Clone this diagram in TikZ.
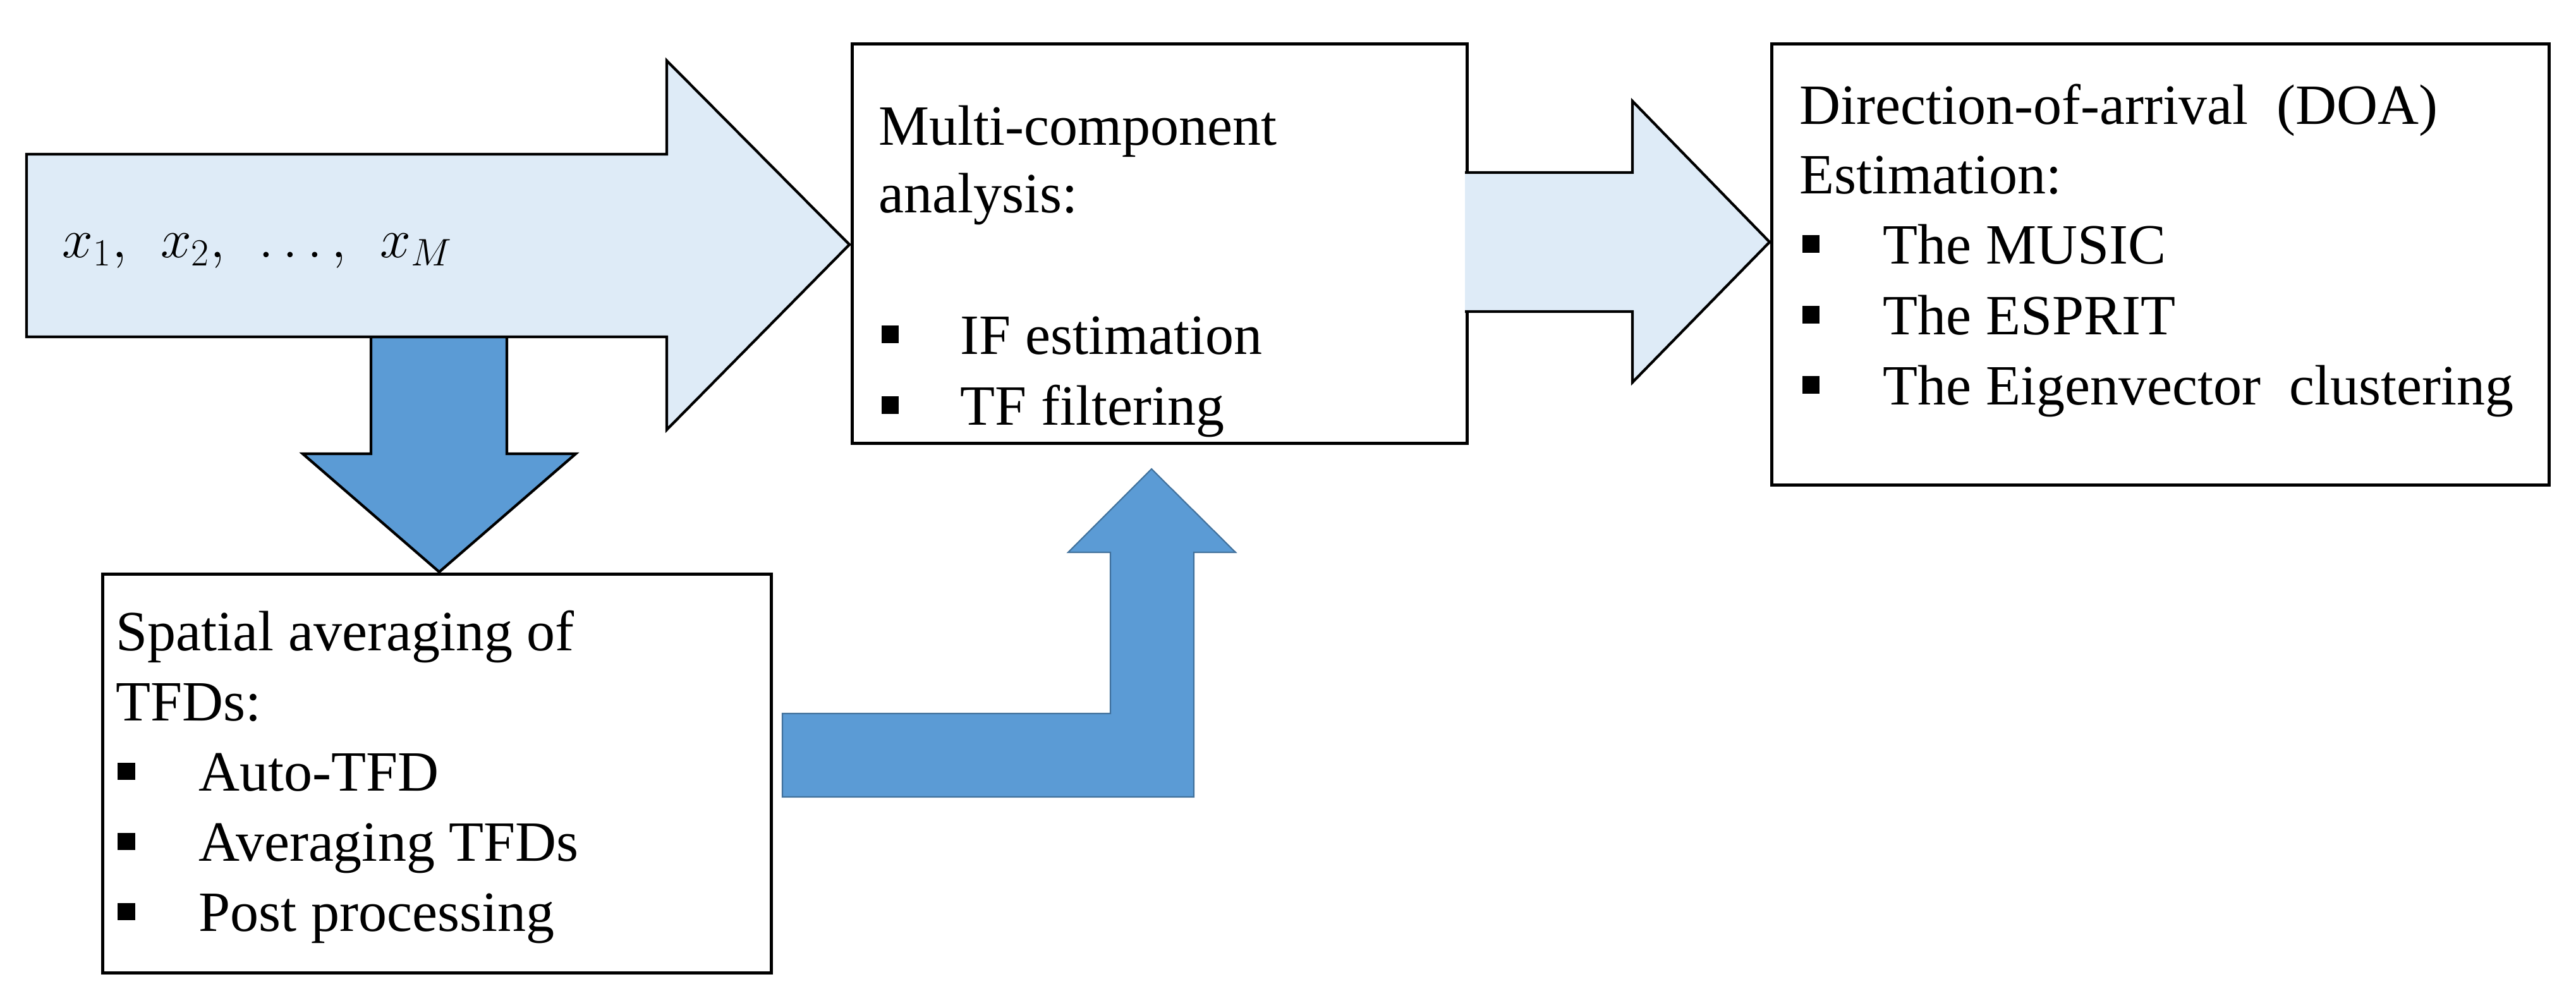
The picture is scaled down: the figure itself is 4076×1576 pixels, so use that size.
\documentclass[tikz,border=0pt]{standalone}
\usepackage{fontspec}
\setmainfont{Liberation Serif}
\definecolor{lightfill}{HTML}{DEEBF7}
\definecolor{darkfill}{HTML}{5B9BD5}
\definecolor{darkline}{HTML}{41719C}
\begin{document}
\begin{tikzpicture}[x=0.01cm,y=-0.01cm,line join=miter]
\tikzset{
  boxnode/.style={draw=black,line width=1.4pt,fill=white,inner sep=0pt,anchor=north west},
  txt/.style={anchor=base west,inner sep=0pt,font=\fontsize{25.6}{30}\selectfont},
  bul/.style={fill=black,draw=none,minimum size=0.27cm,inner sep=0pt},
  lightarrow/.style={fill=lightfill,draw=black,line width=1.2pt},
  darkarrow/.style={fill=darkfill,draw=black,line width=1.2pt},
  darkarrowthin/.style={fill=darkfill,draw=darkline,line width=0.6pt}
}
\useasboundingbox (0,0) rectangle (4076,1576);
\fill[white] (0,0) rectangle (4076,1576);

% boxes
\node[boxnode,minimum width=9.72cm,minimum height=6.32cm] (multi) at (1346,67) {};
\node[boxnode,minimum width=12.29cm,minimum height=6.98cm] (doa) at (2801,67) {};
\node[boxnode,minimum width=10.57cm,minimum height=6.31cm] (spatial) at (160,906) {};

% down arrow
\draw[darkarrow] (587,533) -- (802,533) -- (802,718) -- (911,718) -- (695,905) -- (479,718) -- (587,718) -- cycle;
% big input arrow
\draw[lightarrow] (42,244) -- (1055,244) -- (1055,96) -- (1344,387) -- (1055,680) -- (1055,533) -- (42,533) -- cycle;
% L arrow
\draw[darkarrowthin] (1238,1129) -- (1757,1129) -- (1757,874) -- (1690,874) -- (1822,742) -- (1955,874) -- (1889,874) -- (1889,1261) -- (1238,1261) -- cycle;
% small arrow
\fill[lightfill] (2318,273) -- (2583,273) -- (2583,160) -- (2800,383) -- (2583,605) -- (2583,493) -- (2318,493) -- cycle;
\draw[line width=1.2pt] (2318,273) -- (2583,273) -- (2583,160) -- (2800,383) -- (2583,605) -- (2583,493) -- (2318,493);

% input text
\node[anchor=base west,inner sep=0pt,font=\fontsize{27}{30}\selectfont] (xin) at (98,407) {$x_1,\;\, x_2,\;\, \ldots,\;\, x_M$};

% multi-component text
\node[txt] (m1) at (1390,229) {Multi-component};
\node[txt] (m2) at (1390,337) {analysis:};
\node[bul] (mb1) at (1408,529) {};
\node[txt] (m3) at (1519,560) {IF estimation};
\node[bul] (mb2) at (1408,641) {};
\node[txt] (m4) at (1519,672) {TF filtering};

% DOA text
\node[txt] (d1) at (2847,196) {Direction-of-arrival\ \ (DOA)};
\node[txt] (d2) at (2847,306) {Estimation:};
\node[bul] (db1) at (2865,386) {};
\node[txt] (d3) at (2979,417) {The MUSIC};
\node[bul] (db2) at (2865,498) {};
\node[txt] (d4) at (2979,529) {The ESPRIT};
\node[bul] (db3) at (2865,609) {};
\node[txt] (d5) at (2979,640) {The Eigenvector\ \ clustering};

% spatial text
\node[txt] (s1) at (183,1029) {Spatial\ averaging\ of};
\node[txt] (s2) at (183,1140) {TFDs:};
\node[bul] (sb1) at (200,1220) {};
\node[txt] (s3) at (314,1251) {Auto-TFD};
\node[bul] (sb2) at (200,1331) {};
\node[txt] (s4) at (314,1362) {Averaging TFDs};
\node[bul] (sb3) at (200,1442) {};
\node[txt] (s5) at (314,1473) {Post processing};
\end{tikzpicture}
\end{document}
